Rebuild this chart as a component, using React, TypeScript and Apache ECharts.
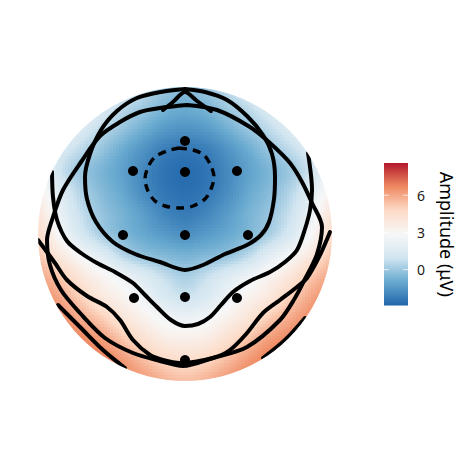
import React, { useEffect, useRef } from "react";
import * as echarts from "echarts";

// Scalp field: amplitude (µV) at each node of a regular grid.
const gridX = [-147, -126, -105, -84, -63, -42, -21, 0, 21, 42, 63, 84, 105, 126, 147];
const gridY = [147, 126, 105, 84, 63, 42, 21, 0, -21, -42, -63, -84, -105, -126, -147];
const fieldRows = [
  [3.0, 3.0, 3.0, 2.5, 1.5, 0.6, 0.0, -0.3, 0.0, 0.6, 1.5, 2.5, 3.0, 3.0, 3.0],
  [3.0, 3.0, 2.5, 1.5, 0.6, 0.0, -0.6, -0.9, -0.6, 0.0, 0.6, 1.5, 2.5, 3.0, 3.0],
  [3.0, 2.6, 1.5, 0.6, -0.1, -0.8, -1.4, -1.6, -1.4, -0.8, -0.1, 0.6, 1.5, 2.6, 3.0],
  [2.8, 1.5, 0.6, -0.1, -0.9, -1.6, -2.2, -2.4, -2.2, -1.6, -0.9, -0.1, 0.6, 1.5, 2.8],
  [2.6, 1.0, 0.0, -0.6, -1.2, -1.9, -2.5, -2.7, -2.5, -1.9, -1.2, -0.6, 0.0, 1.0, 2.6],
  [3.3, 1.7, 0.4, -0.4, -1.0, -1.8, -2.4, -2.6, -2.4, -1.8, -1.0, -0.4, 0.4, 1.7, 3.3],
  [4.0, 2.2, 0.8, -0.1, -0.7, -1.3, -2.0, -2.3, -2.0, -1.4, -0.7, -0.1, 0.8, 2.2, 4.0],
  [4.6, 2.8, 1.3, 0.2, -0.5, -1.0, -1.4, -1.7, -1.4, -1.0, -0.5, 0.2, 1.3, 2.8, 4.6],
  [5.2, 3.9, 2.7, 1.7, 0.5, -0.2, -0.5, -0.7, -0.5, -0.2, 0.5, 1.7, 2.7, 3.9, 5.2],
  [6.0, 5.2, 4.0, 3.1, 2.3, 1.5, 0.7, 0.2, 0.7, 1.5, 2.3, 3.1, 4.0, 5.2, 6.0],
  [6.6, 6.0, 5.0, 3.9, 3.2, 2.4, 1.4, 0.9, 1.4, 2.4, 3.2, 3.9, 5.0, 6.0, 6.6],
  [7.0, 6.6, 5.9, 5.1, 4.1, 3.3, 2.6, 2.3, 2.6, 3.3, 4.1, 5.1, 5.9, 6.6, 7.0],
  [7.0, 7.0, 6.7, 6.2, 5.3, 4.4, 3.6, 3.4, 3.6, 4.4, 5.3, 6.2, 6.7, 7.0, 7.0],
  [7.0, 7.0, 7.0, 6.9, 6.3, 5.5, 4.8, 4.5, 4.8, 5.5, 6.3, 6.9, 7.0, 7.0, 7.0],
  [7.0, 7.0, 7.0, 7.0, 6.8, 6.3, 5.7, 5.4, 5.7, 6.3, 6.8, 7.0, 7.0, 7.0, 7.0],
];

const electrodes = [
  [0, 93], [-52, 63], [0, 62], [52, 63], [-62, -1], [0, -1],
  [63, -1], [-51, -64], [0, -63], [52, -64], [0, -126],
];

const contourA = [
  [0, 145], [-24, 142], [-48, 136], [-68, 123], [-84, 104], [-95, 80], [-100, 57], [-98, 35],
  [-89, 12], [-72, -8], [-50, -20], [-25, -28], [0, -36], [18, -31], [40, -20], [62, -11],
  [76, -1], [84, 12], [89, 35], [90, 57], [87, 80], [78, 99], [62, 118], [42, 134], [20, 142], [0, 145],
];
const contourB = [
  [2, 129], [-25, 126], [-45, 122], [-65, 112], [-85, 98], [-104, 72], [-122, 44], [-132, 17],
  [-138, -6], [-135, -31], [-124, -56], [-105, -79], [-80, -104], [-52, -119], [-25, -127],
  [-2, -132], [28, -124], [62, -113], [95, -86], [110, -64], [120, -45], [132, -20], [137, 7],
  [127, 31], [117, 52], [105, 71], [85, 91], [65, 107], [32, 124], [2, 129],
];
const contourPeak = [[-22, 124], [-12, 132], [0, 142], [12, 133], [26, 123]];
const contourC = [
  [-133, 62], [-132, 37], [-128, 14], [-118, -7], [-104, -19], [-88, -29], [-70, -38], [-52, -49],
  [-40, -61], [-28, -73], [-14, -86], [0, -92], [13, -90], [25, -83], [36, -71], [48, -58],
  [65, -47], [85, -38], [100, -28], [112, -16], [120, 5], [125, 24], [127, 44], [123, 81],
];
const contourE = [
  [-147, -6], [-130, -29], [-118, -46], [-98, -62], [-78, -73], [-65, -86], [-52, -106], [-35, -121],
  [-22, -126], [-5, -129], [28, -124], [45, -116], [62, -99], [78, -79], [95, -66], [112, -53],
  [122, -44], [135, -21], [145, 2],
];
const contourGLeft = [[-127, -71], [-105, -93], [-82, -116], [-60, -134]];
const contourGRight = [[78, -124], [100, -106], [120, -84]];
const contourDashed = [
  [-6, 86], [8, 84], [19, 79], [26, 68], [29, 57], [26, 45], [20, 35], [8, 28], [-6, 26], [-20, 28],
  [-30, 33], [-37, 43], [-40, 55], [-37, 67], [-30, 77], [-18, 83], [-6, 86],
];

const colorStops = ["#2166ac", "#67a9cf", "#d1e5f0", "#f7f7f7", "#fddbc7", "#ef8a62", "#b2182b"];
const colorMin = -2.9;
const colorMax = 8.6;
const colorbarTicks = [0, 3, 6];
const legendTitle = "Amplitude (μV)";
const headRadius = 147;

function hexRgb(h: string) {
  return [parseInt(h.slice(1, 3), 16), parseInt(h.slice(3, 5), 16), parseInt(h.slice(5, 7), 16)];
}
const stopsRgb = colorStops.map(hexRgb);
function colorOf(v: number) {
  const t = Math.max(0, Math.min(1, (v - colorMin) / (colorMax - colorMin))) * (stopsRgb.length - 1);
  const i = Math.min(stopsRgb.length - 2, Math.floor(t));
  const f = t - i;
  const c = stopsRgb[i].map((a, k) => Math.round(a + (stopsRgb[i + 1][k] - a) * f));
  return `rgb(${c[0]},${c[1]},${c[2]})`;
}

// Catmull-Rom shading of one matrix cell when it is painted
function cr(p0: number, p1: number, p2: number, p3: number, t: number) {
  return 0.5 * (2 * p1 + (p2 - p0) * t + (2 * p0 - 5 * p1 + 4 * p2 - p3) * t * t + (3 * p1 - p0 - 3 * p2 + p3) * t * t * t);
}
function shade(r: number, c: number, u: number, v: number) {
  const n = fieldRows.length - 1;
  const m = fieldRows[0].length - 1;
  const at = (i: number, j: number) => fieldRows[Math.max(0, Math.min(n, i))][Math.max(0, Math.min(m, j))];
  const rowv = [-1, 0, 1, 2].map((d) => cr(at(r + d, c - 1), at(r + d, c), at(r + d, c + 1), at(r + d, c + 2), u));
  return cr(rowv[0], rowv[1], rowv[2], rowv[3], v);
}

const cells: number[][] = [];
for (let r = 0; r < gridY.length - 1; r++) {
  for (let c = 0; c < gridX.length - 1; c++) {
    cells.push([gridX[c], gridY[r], fieldRows[r][c], r, c]);
  }
}

function contourSeries(data: number[][], extra: any = {}) {
  return {
    type: "line",
    data,
    smooth: 0.3,
    symbol: "none",
    silent: true,
    z: 3,
    animation: false,
    lineStyle: { color: "#000", width: 4, cap: "round", join: "round", ...extra },
    xAxisIndex: 0,
    yAxisIndex: 0,
  };
}

export default function App() {
  const ref = useRef<HTMLDivElement>(null);
  useEffect(() => {
    if (!ref.current) return;
    const chart = echarts.init(ref.current, undefined, { renderer: "svg" });
    const sub = 7;
    chart.setOption({
      animation: false,
      backgroundColor: "#fff",
      grid: [
        { left: 0, top: 0, width: 474, height: 474 },
        { left: 384, top: 163, width: 24, height: 142.5 },
      ],
      xAxis: [
        { type: "value", gridIndex: 0, min: -185, max: 289, show: false },
        { type: "value", gridIndex: 1, min: 0, max: 1, show: false },
      ],
      yAxis: [
        { type: "value", gridIndex: 0, min: -240, max: 234, show: false },
        {
          type: "value",
          gridIndex: 1,
          position: "right",
          min: colorMin,
          max: colorMax,
          splitLine: { show: false },
          axisLine: { show: false },
          axisTick: { show: false },
          axisLabel: {
            customValues: colorbarTicks,
            margin: 9,
            color: "#1a1a1a",
            fontFamily: "Noto Sans",
            fontSize: 14,
          },
          name: legendTitle,
          nameLocation: "middle",
          nameRotate: -90,
          nameGap: 30,
          nameTextStyle: { color: "#000", fontFamily: "Noto Sans", fontSize: 18 },
        },
      ],
      series: [
        {
          type: "custom",
          xAxisIndex: 0,
          yAxisIndex: 0,
          silent: true,
          z: 1,
          data: cells,
          encode: { x: 0, y: 1 },
          renderItem: (_p: any, api: any) => {
            const x0 = api.value(0);
            const y0 = api.value(1);
            const r = api.value(3);
            const c = api.value(4);
            const corner = api.coord([x0, y0]);
            const step = api.size([21, 21]);
            const children: any[] = [];
            for (let i = 0; i < sub; i++) {
              for (let j = 0; j < sub; j++) {
                const u = (j + 0.5) / sub;
                const v = (i + 0.5) / sub;
                const hx = x0 + 21 * u;
                const hy = y0 - 21 * v;
                if (hx * hx + hy * hy > 150 * 150) continue;
                children.push({
                  type: "rect",
                  shape: {
                    x: corner[0] + (j * step[0]) / sub,
                    y: corner[1] + (i * step[1]) / sub,
                    width: step[0] / sub,
                    height: step[1] / sub,
                  },
                  style: { fill: colorOf(shade(r, c, u, v)) },
                });
              }
            }
            return { type: "group", children };
          },
        },
        contourSeries(contourA),
        contourSeries(contourB),
        contourSeries(contourPeak),
        contourSeries(contourC),
        contourSeries(contourE),
        contourSeries(contourGLeft),
        contourSeries(contourGRight),
        contourSeries(contourDashed, { width: 3.4, type: [8, 6], cap: "butt" }),
        {
          type: "scatter",
          xAxisIndex: 0,
          yAxisIndex: 0,
          data: electrodes,
          symbol: "circle",
          symbolSize: 10,
          silent: true,
          z: 4,
          itemStyle: { color: "#000", opacity: 1 },
        },
        {
          type: "custom",
          xAxisIndex: 0,
          yAxisIndex: 0,
          silent: true,
          z: 5,
          data: [[0, 0]],
          encode: { x: 0, y: 1 },
          renderItem: (_p: any, api: any) => {
            const o = api.coord([api.value(0), api.value(1)]);
            const rad = api.size([headRadius, 0])[0];
            return {
              type: "ring",
              shape: { cx: o[0], cy: o[1], r: rad + 28, r0: rad },
              style: { fill: "#fff" },
            };
          },
        },
        {
          type: "custom",
          xAxisIndex: 1,
          yAxisIndex: 1,
          silent: true,
          z: 6,
          data: [[0, colorMax, 1, colorMin]],
          encode: { x: [0, 2], y: [1, 3] },
          renderItem: (_p: any, api: any) => {
            const a = api.coord([api.value(0), api.value(1)]);
            const b = api.coord([api.value(2), api.value(3)]);
            return {
              type: "rect",
              shape: { x: a[0], y: a[1], width: b[0] - a[0], height: b[1] - a[1] },
              style: {
                fill: new echarts.graphic.LinearGradient(
                  0, 0, 0, 1,
                  colorStops.slice().reverse().map((color, i) => ({ offset: i / (colorStops.length - 1), color })),
                ),
              },
            };
          },
        },
        {
          type: "custom",
          xAxisIndex: 1,
          yAxisIndex: 1,
          silent: true,
          z: 7,
          data: colorbarTicks.map((t) => [0, t, 1]),
          encode: { x: [0, 2], y: 1 },
          renderItem: (_p: any, api: any) => {
            const a = api.coord([api.value(0), api.value(1)]);
            const b = api.coord([api.value(2), api.value(1)]);
            const stub = (b[0] - a[0]) / 5;
            const st = { stroke: "rgba(255,255,255,0.75)", lineWidth: 1 };
            return {
              type: "group",
              children: [
                { type: "line", shape: { x1: a[0], y1: a[1], x2: a[0] + stub, y2: a[1] }, style: st },
                { type: "line", shape: { x1: b[0] - stub, y1: a[1], x2: b[0], y2: a[1] }, style: st },
              ],
            };
          },
        },
      ],
    });
    return () => chart.dispose();
  }, []);
  return <div ref={ref} style={{ position: "absolute", left: 0, top: 0, width: 474, height: 474 }} />;
}
